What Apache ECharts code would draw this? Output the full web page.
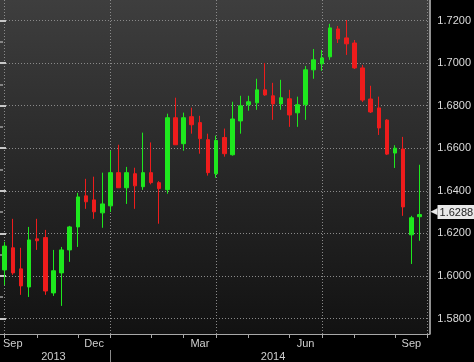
<!DOCTYPE html>
<html>
<head>
<meta charset="utf-8">
<script src="https://cdn.jsdelivr.net/npm/echarts@6/dist/echarts.min.js"></script>
<style>
html,body{margin:0;padding:0;background:#000;}
#chart{width:474px;height:362px;}
</style>
</head>
<body>
<div id="chart"></div>
<script>
// Weekly GBP/USD candles (week ending dates)
const weeks = [
 '2013-09-27','2013-10-04','2013-10-11','2013-10-18','2013-10-25','2013-11-01','2013-11-08','2013-11-15','2013-11-22','2013-11-29',
 '2013-12-06','2013-12-13','2013-12-20','2013-12-27','2014-01-03','2014-01-10','2014-01-17','2014-01-24','2014-01-31','2014-02-07',
 '2014-02-14','2014-02-21','2014-02-28','2014-03-07','2014-03-14','2014-03-21','2014-03-28','2014-04-04','2014-04-11','2014-04-18',
 '2014-04-25','2014-05-02','2014-05-09','2014-05-16','2014-05-23','2014-05-30','2014-06-06','2014-06-13','2014-06-20','2014-06-27',
 '2014-07-04','2014-07-11','2014-07-18','2014-07-25','2014-08-01','2014-08-08','2014-08-15','2014-08-22','2014-08-29','2014-09-05',
 '2014-09-12','2014-09-19','2014-09-26'
];
const opens  = [1.6028,1.6132,1.6033,1.5948,1.6174,1.6180,1.5920,1.6014,1.6122,1.6230,
                1.6376,1.6357,1.6296,1.6329,1.6485,1.6414,1.6480,1.6419,1.6485,1.6438,
                1.6405,1.6743,1.6621,1.6748,1.6720,1.6640,1.6480,1.6650,1.6569,1.6728,
                1.6804,1.6813,1.6874,1.6846,1.6808,1.6832,1.6766,1.6804,1.6968,1.6996,
                1.7029,1.7160,1.7118,1.7094,1.6977,1.6831,1.6789,1.6732,1.6577,1.6596,
                1.6193,1.6278];
const closes = [1.6140,1.6014,1.5953,1.6169,1.6165,1.5929,1.6024,1.6122,1.6230,1.6371,
                1.6348,1.6301,1.6338,1.6485,1.6414,1.6485,1.6423,1.6485,1.6438,1.6410,
                1.6743,1.6616,1.6743,1.6710,1.6645,1.6485,1.6636,1.6574,1.6737,1.6799,
                1.6818,1.6874,1.6850,1.6808,1.6837,1.6756,1.6804,1.6968,1.7015,1.7024,
                1.7165,1.7113,1.7090,1.6977,1.6826,1.6770,1.6695,1.6572,1.6600,1.6324,
                1.6273,1.6288];
const lows   = [1.5957,1.6005,1.5911,1.5901,1.6122,1.5911,1.5906,1.5859,1.6066,1.6136,
                1.6315,1.6268,1.6226,1.6300,1.6414,1.6338,1.6315,1.6404,1.6430,1.6245,
                1.6386,1.6616,1.6588,1.6668,1.6574,1.6471,1.6461,1.6560,1.6565,1.6668,
                1.6776,1.6780,1.6846,1.6733,1.6780,1.6700,1.6700,1.6733,1.6926,1.6963,
                1.7015,1.7094,1.7038,1.6972,1.6817,1.6765,1.6662,1.6568,1.6507,1.6282,
                1.6056,1.6165];
const highs  = [1.6160,1.6268,1.6132,1.6230,1.6268,1.6216,1.6122,1.6136,1.6235,1.6390,
                1.6456,1.6466,1.6485,1.6588,1.6616,1.6512,1.6508,1.6673,1.6627,1.6445,
                1.6762,1.6837,1.6767,1.6790,1.6752,1.6668,1.6659,1.6692,1.6818,1.6846,
                1.6846,1.6926,1.7000,1.6907,1.6921,1.6874,1.6842,1.6986,1.7066,1.7061,
                1.7184,1.7174,1.7202,1.7108,1.6991,1.6893,1.6842,1.6736,1.6614,1.6653,
                1.6282,1.6522];
// x-axis labels / ticks (category indices)
const monthTickIdx = [0,4,9,13,18,22,26,30,35,39,43,48,52];
const monthLabels = {1:'Sep', 11:'Dec', 24:'Mar', 37:'Jun', 50:'Sep'};
const yearLabels = {6:'2013', 33:'2014'};
const yearSepIdx = [13];
const quarterIdx = [0,13,26,39,52];
const yMin = 1.58, yMax = 1.72, yStep = 0.02;

const candleData = opens.map((o,i)=>[o, closes[i], lows[i], highs[i]]);
const last = closes[closes.length-1];

const font = 'Liberation Sans, Arial, sans-serif';
const chart = echarts.init(document.getElementById('chart'));
chart.setOption({
  animation: false,
  backgroundColor: '#000',
  grid: [
    {left: 0, right: 44.5, top: 0, bottom: 28, show: true, borderWidth: 0,
     backgroundColor: {type:'linear', x:0, y:0, x2:0, y2:1,
       colorStops:[{offset:0,color:'#3e3e3e'},{offset:1,color:'#121212'}]}},
    {left: 1.7, right: 46.4, top: 0, bottom: 28},
    {left: 0, right: 44.5, top: 20.5, bottom: 43.5}
  ],
  xAxis: [
    {gridIndex:0, type:'value', min:0, max:1,
     axisLine:{show:true, onZero:false, lineStyle:{color:'#a8a8a8', width:1}},
     axisTick:{show:false}, axisLabel:{show:false}, splitLine:{show:false}},
    {gridIndex:1, type:'category', data: weeks, boundaryGap:false,
     axisLine:{show:false},
     axisTick:{show:true, length:4, interval:(i)=>monthTickIdx.includes(i), lineStyle:{color:'#a8a8a8'}},
     axisLabel:{show:true, interval:(i)=>monthLabels[i]!==undefined, formatter:(v,i)=>monthLabels[i]||'',
       color:'#cfcfcf', fontSize:11, fontFamily:font, margin:4},
     splitLine:{show:true, interval:(i)=>quarterIdx.includes(i), lineStyle:{color:'#8a8a8a', type:[1,2], width:1}}},
    {gridIndex:1, type:'category', data: weeks, boundaryGap:false, position:'bottom', offset:16,
     axisLine:{show:false},
     axisTick:{show:true, length:12, interval:(i)=>yearSepIdx.includes(i), lineStyle:{color:'#8a8a8a'}},
     axisLabel:{show:true, interval:(i)=>yearLabels[i]!==undefined, formatter:(v,i)=>yearLabels[i]||'',
       color:'#cfcfcf', fontSize:11, fontFamily:font, margin:1},
     splitLine:{show:false}},
    {gridIndex:2, type:'value', show:false}
  ],
  yAxis: [
    {gridIndex:0, type:'value', min:0, max:1, position:'right',
     axisLine:{show:true, onZero:false, lineStyle:{color:'#c0c0c0', width:1.5}},
     axisTick:{show:false}, axisLabel:{show:false}, splitLine:{show:false}},
    {gridIndex:1, type:'value', min:1.5727, max:1.7296, show:false},
    {gridIndex:2, type:'value', min:yMin, max:yMax, interval:yStep, position:'right',
     axisLine:{show:false},
     axisTick:{show:true, length:6, lineStyle:{color:'#c8c8c8', width:2}},
     minorTick:{show:true, splitNumber:2, length:3, lineStyle:{color:'#a0a0a0', width:1.5}},
     axisLabel:{show:true, margin:9, formatter:(v)=>v.toFixed(4), color:'#dcdcdc', fontSize:11, fontFamily:font},
     splitLine:{show:true, lineStyle:{color:'#8a8a8a', type:[1,2], width:1}}}
  ],
  series: [{
    type:'candlestick', xAxisIndex:1, yAxisIndex:1, data: candleData,
    barWidth: 4, clip: false,
    itemStyle:{color:'#1ee81e', color0:'#ee1c1c', borderColor:'#1ee81e', borderColor0:'#ee1c1c', borderWidth:1},
    markLine:{
      silent:true, symbol:'none', animation:false,
      lineStyle:{color:'rgba(0,0,0,0)', width:1},
      data:[{yAxis:last}],
      label:{show:true, position:'end', distance:3, opacity:1,
        formatter:()=> '{a|◀}{b|' + last.toFixed(4) + '}',
        rich:{
          a:{color:'#e8e8e8', fontSize:9, fontFamily:'DejaVu Sans'},
          b:{color:'#222', backgroundColor:'#e8e8e8', fontSize:11, fontFamily:font, padding:[2,2,1,2]}
        }}
    }
  }]
});
</script>
</body>
</html>
